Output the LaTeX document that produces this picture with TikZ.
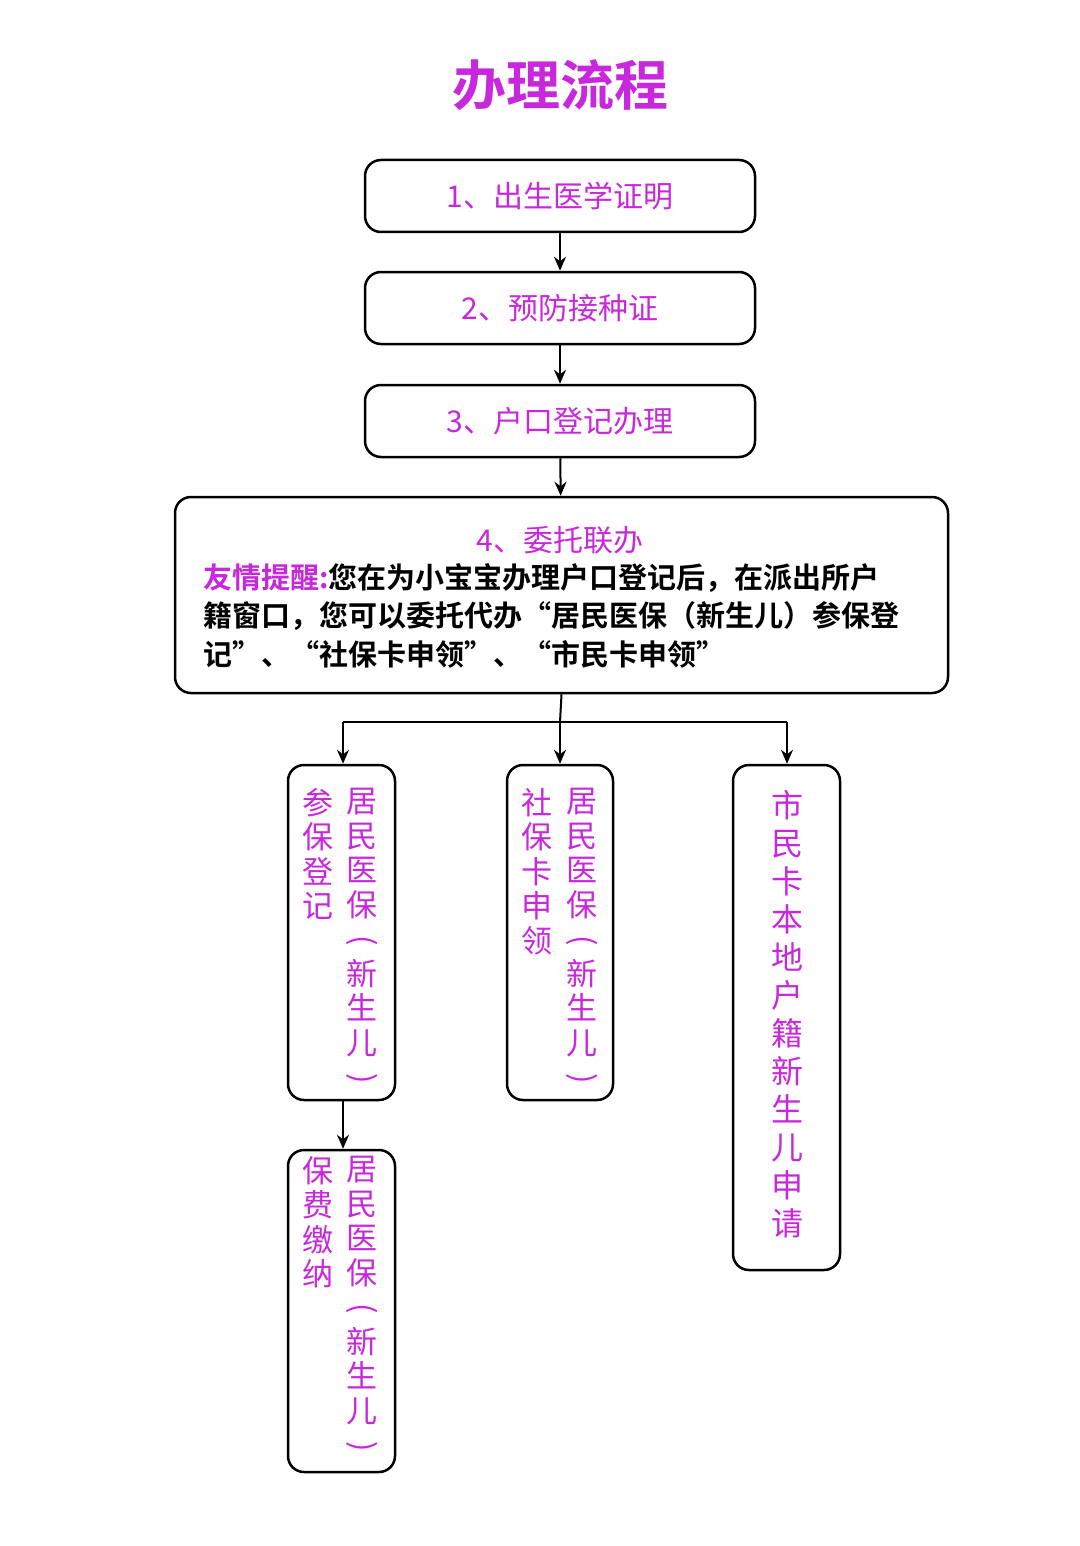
\documentclass[tikz,border=0pt]{standalone}
\usepackage{fontspec}
\usepackage{graphicx}
\usetikzlibrary{arrows.meta}
\newfontfamily\cjk{Noto Sans CJK SC}
\newfontfamily\cjkb{Noto Sans CJK SC Bold}
\definecolor{mag}{RGB}{200,40,220}
\newcommand{\lp}{\rotatebox[origin=c]{-90}{(}}
\newcommand{\rp}{\rotatebox[origin=c]{-90}{)}}
\begin{document}
\begin{tikzpicture}[x=1pt,y=-1pt,
 box/.style={draw,line width=2.5pt,rounded corners=16pt,inner sep=0},
 arr/.style={line width=2pt,-{Stealth[length=14pt,width=12pt]}},
 ln/.style={line width=2pt},
 mt/.style={text=mag,font=\cjk\fontsize{30}{36}\selectfont},
 vt/.style={text=mag,font=\cjk\fontsize{31}{34.5}\selectfont,align=center,anchor=north,text width=36pt,inner sep=0},
 vtc/.style={text=mag,font=\cjk\fontsize{32}{38}\selectfont,align=center,anchor=north,text width=36pt,inner sep=0}]
\useasboundingbox[fill=white] (0,0) rectangle (1079,1546);
\node[text=mag,font=\cjkb\fontsize{54}{60}\selectfont] (title) at (560,85) {办理流程};
\node[box,minimum width=390pt,minimum height=72pt] (b1) at (560,196) {};
\node[mt] at (b1) {1、出生医学证明};
\node[box,minimum width=390pt,minimum height=72pt] (b2) at (560,308) {};
\node[mt] at (b2) {2、预防接种证};
\node[box,minimum width=390pt,minimum height=72pt] (b3) at (560,421) {};
\node[mt] at (b3) {3、户口登记办理};
\node[box,minimum width=773pt,minimum height=196pt] (b4) at (561.5,595) {};
\node[mt] at (560,540) {4、委托联办};
\node[anchor=north west,align=left,inner sep=0,font=\cjkb\fontsize{29}{38.5}\selectfont,text width=740pt] (tip) at (203,563)
 {\textcolor{mag}{友情提醒:}您在为小宝宝办理户口登记后，在派出所户\\籍窗口，您可以委托代办“居民医保（新生儿）参保登\\记”、“社保卡申领”、“市民卡申领”};
\node[box,minimum width=107pt,minimum height=335pt] (ba) at (341.5,932.5) {};
\node[box,minimum width=106pt,minimum height=335pt] (bb) at (560,932.5) {};
\node[box,minimum width=107pt,minimum height=505pt] (bc) at (786.5,1017.5) {};
\node[box,minimum width=107pt,minimum height=322pt] (bd) at (341.5,1311) {};
\node[vt] at (362,788) {居\\民\\医\\保\\\lp\\新\\生\\儿\\\rp};
\node[vt] at (318,788) {参\\保\\登\\记};
\node[vt] at (582,788) {居\\民\\医\\保\\\lp\\新\\生\\儿\\\rp};
\node[vt] at (537,788) {社\\保\\卡\\申\\领};
\node[vtc] at (787,790) {市\\民\\卡\\本\\地\\户\\籍\\新\\生\\儿\\申\\请};
\node[vt] at (362,1156) {居\\民\\医\\保\\\lp\\新\\生\\儿\\\rp};
\node[vt] at (318,1156) {保\\费\\缴\\纳};
\coordinate (j) at (560,722);
\coordinate (jl) at (343,722);
\coordinate (jr) at (787,722);
\draw[arr] (b1) -- (b2);
\draw[arr] (b2) -- (b3);
\draw[arr] (b3) -- (b4);
\draw[ln] (b4.south) -- (j);
\draw[ln] (jl) -- (jr);
\draw[arr] (jl) -- (jl |- ba.north);
\draw[arr] (j) -- (bb.north);
\draw[arr] (jr) -- (jr |- bc.north);
\draw[arr] (jl |- ba.south) -- (jl |- bd.north);
\end{tikzpicture}
\end{document}
